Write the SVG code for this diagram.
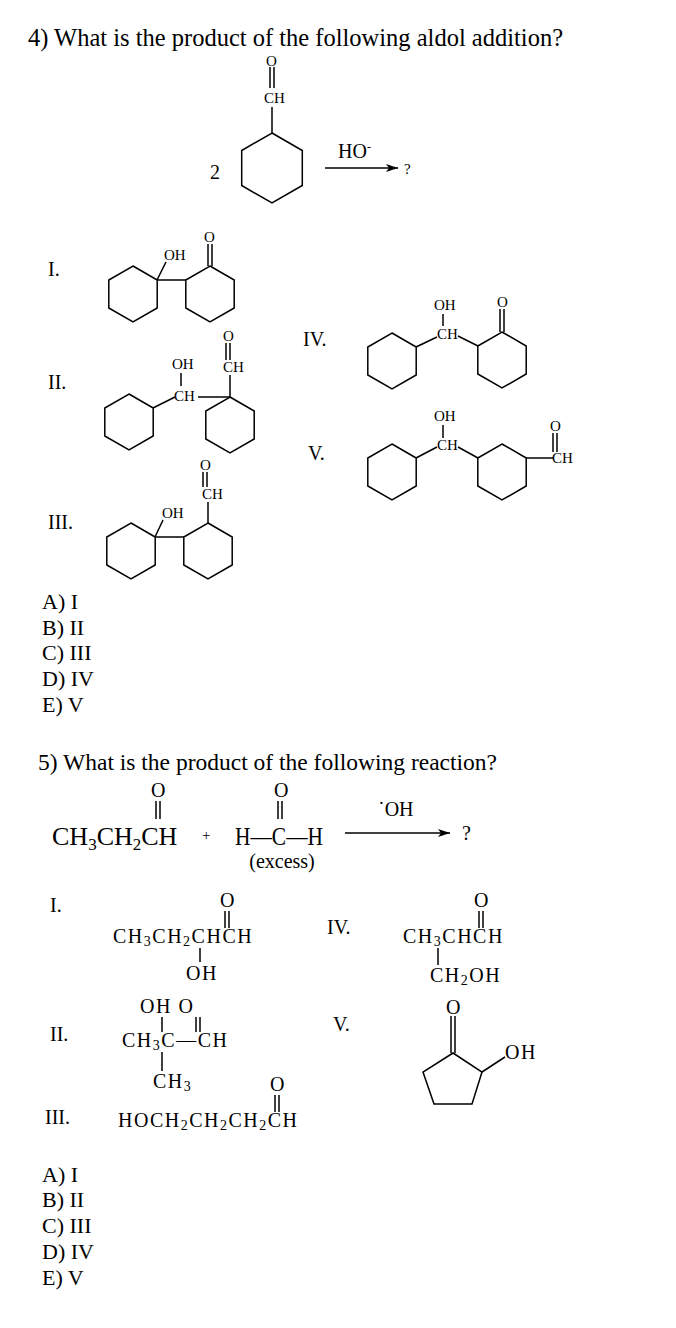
<svg xmlns="http://www.w3.org/2000/svg" width="676" height="1328" viewBox="0 0 676 1328">
<style>
text{font-family:"Liberation Serif",serif;fill:#000}
.q{font-size:24.5px}
.q5{font-size:23.5px}
.a{font-size:22px}
.s{font-size:15px}
.m{font-size:20px}
.f{font-size:20px;letter-spacing:1.5px}
.b{font-size:26px}
.l{font-size:20px}
line,polygon,polyline{stroke:#000;stroke-width:1.5;fill:none}
</style>
<defs>
<polygon id="hex" points="0,-28 24.2,-14 24.2,14 0,28 -24.2,14 -24.2,-14"/>
<polygon id="hexL" points="0,-35 30.3,-17.5 30.3,17.5 0,35 -30.3,17.5 -30.3,-17.5"/>
<marker id="ah" markerWidth="12" markerHeight="8" refX="12" refY="4" orient="auto" markerUnits="userSpaceOnUse"><path d="M0,0 L12,4 L0,8 L3,4 Z" fill="#000"/></marker>
</defs>
<text class="q" x="28" y="46">4) What is the product of the following aldol addition?</text>
<g id="q4-start">
<use href="#hexL" x="272" y="168"/>
<line x1="272" y1="133" x2="272" y2="107"/>
<text class="s" x="264" y="103">CH</text>
<line x1="270" y1="67" x2="270" y2="88"/><line x1="274" y1="67" x2="274" y2="88"/>
<text class="s" x="266" y="66">O</text>
<text class="m" x="210" y="179">2</text>
</g>
<g id="q4-arrow">
<line x1="325" y1="168" x2="398" y2="168" marker-end="url(#ah)"/>
<text class="m" x="338" y="158">HO<tspan dy="-7" font-size="12">-</tspan></text>
<text class="s" x="404" y="174">?</text>
</g>
<g id="q4-I">
<text class="l" x="48" y="276">I.</text>
<use href="#hex" x="133" y="294"/><use href="#hex" x="210" y="294"/>
<line x1="157" y1="280" x2="186" y2="280"/>
<line x1="157" y1="280" x2="166" y2="262"/>
<text class="s" x="164" y="260">OH</text>
<line x1="208" y1="244" x2="208" y2="266"/><line x1="212" y1="244" x2="212" y2="266"/>
<text class="s" x="204" y="242">O</text>
</g>
<g id="q4-II">
<text class="l" x="48" y="389">II.</text>
<use href="#hex" x="129" y="422"/><use href="#hex" x="230" y="425"/>
<line x1="153" y1="408" x2="175" y2="397"/>
<text class="s" x="174" y="401">CH</text>
<line x1="181" y1="386" x2="181" y2="373"/>
<text class="s" x="172" y="369">OH</text>
<line x1="198" y1="397" x2="230" y2="397"/>
<line x1="230" y1="397" x2="230" y2="375"/>
<text class="s" x="223" y="372">CH</text>
<line x1="226" y1="343" x2="226" y2="360"/><line x1="230" y1="343" x2="230" y2="360"/>
<text class="s" x="223" y="341">O</text>
</g>
<g id="q4-III">
<text class="l" x="48" y="529">III.</text>
<use href="#hex" x="131" y="551"/><use href="#hex" x="208" y="551"/>
<line x1="155" y1="537" x2="184" y2="537"/>
<line x1="155" y1="537" x2="163" y2="520"/>
<text class="s" x="162" y="518">OH</text>
<line x1="208" y1="523" x2="208" y2="502"/>
<text class="s" x="202" y="499">CH</text>
<line x1="203" y1="472" x2="203" y2="487"/><line x1="207" y1="472" x2="207" y2="487"/>
<text class="s" x="200" y="470">O</text>
</g>
<g id="q4-IV">
<text class="l" x="303" y="346">IV.</text>
<use href="#hex" x="392" y="361"/><use href="#hex" x="502" y="360"/>
<line x1="416" y1="347" x2="437" y2="337"/>
<text class="s" x="437" y="339">CH</text>
<line x1="443" y1="326" x2="443" y2="314"/>
<text class="s" x="434" y="310">OH</text>
<line x1="458" y1="336" x2="478" y2="346"/>
<line x1="500" y1="309" x2="500" y2="332"/><line x1="504" y1="309" x2="504" y2="332"/>
<text class="s" x="497" y="307">O</text>
</g>
<g id="q4-V">
<text class="l" x="308" y="460">V.</text>
<use href="#hex" x="392" y="472"/><use href="#hex" x="502" y="472"/>
<line x1="416" y1="458" x2="437" y2="447"/>
<text class="s" x="437" y="450">CH</text>
<line x1="443" y1="438" x2="443" y2="425"/>
<text class="s" x="434" y="421">OH</text>
<line x1="458" y1="447" x2="478" y2="458"/>
<line x1="526" y1="458" x2="553" y2="458"/>
<text class="s" x="552" y="463">CH</text>
<line x1="553" y1="433" x2="553" y2="452"/><line x1="557" y1="433" x2="557" y2="452"/>
<text class="s" x="550" y="431">O</text>
</g>
<g id="q4-answers">
<text class="a" x="42" y="609">A) I</text>
<text class="a" x="42" y="635">B) II</text>
<text class="a" x="42" y="660">C) III</text>
<text class="a" x="42" y="686">D) IV</text>
<text class="a" x="42" y="712">E) V</text>
</g>
<text class="q5" x="38" y="770">5) What is the product of the following reaction?</text>
<g id="q5-reactants">
<text class="b" x="52" y="845">CH<tspan font-size="17" dy="5">3</tspan><tspan dy="-5">CH</tspan><tspan font-size="17" dy="5">2</tspan><tspan dy="-5">CH</tspan></text>
<text class="m" x="151" y="797">O</text>
<line x1="156" y1="801" x2="156" y2="819"/><line x1="160" y1="801" x2="160" y2="819"/>
<text class="s" x="202" y="840">+</text>
<text class="b" x="235" y="845" textLength="88" lengthAdjust="spacingAndGlyphs">H—C—H</text>
<text class="m" x="274" y="797">O</text>
<line x1="278" y1="801" x2="278" y2="819"/><line x1="282" y1="801" x2="282" y2="819"/>
<text class="l" x="282" y="868" text-anchor="middle">(excess)</text>
</g>
<g id="q5-arrow">
<line x1="345" y1="833" x2="450" y2="833" marker-end="url(#ah)"/>
<text class="l" x="378" y="816" font-size="23">˙OH</text>
<text class="m" x="462" y="840">?</text>
</g>
<g id="q5-I">
<text class="m" x="50" y="912">I.</text>
<text class="f" x="113" y="943">CH<tspan font-size="14" dy="3">3</tspan><tspan dy="-3">CH</tspan><tspan font-size="14" dy="3">2</tspan><tspan dy="-3">CHCH</tspan></text>
<text class="m" x="220" y="907">O</text>
<line x1="225" y1="911" x2="225" y2="928"/><line x1="229" y1="911" x2="229" y2="928"/>
<line x1="200" y1="948" x2="200" y2="962"/>
<text class="f" x="186" y="980">OH</text>
</g>
<g id="q5-II">
<text class="m" x="50" y="1041">II.</text>
<text class="f" x="140" y="1013">OH O</text>
<line x1="162" y1="1017" x2="162" y2="1032"/>
<line x1="196" y1="1017" x2="196" y2="1032"/><line x1="200" y1="1017" x2="200" y2="1032"/>
<text class="f" x="122" y="1047">CH<tspan font-size="14" dy="3">3</tspan><tspan dy="-3">C—CH</tspan></text>
<line x1="162" y1="1052" x2="162" y2="1071"/>
<text class="f" x="153" y="1088">CH<tspan font-size="14" dy="3">3</tspan></text>
</g>
<g id="q5-III">
<text class="m" x="45" y="1124">III.</text>
<text class="f" x="118" y="1127">HOCH<tspan font-size="14" dy="3">2</tspan><tspan dy="-3">CH</tspan><tspan font-size="14" dy="3">2</tspan><tspan dy="-3">CH</tspan><tspan font-size="14" dy="3">2</tspan><tspan dy="-3">CH</tspan></text>
<text class="m" x="270" y="1091">O</text>
<line x1="275" y1="1095" x2="275" y2="1112"/><line x1="279" y1="1095" x2="279" y2="1112"/>
</g>
<g id="q5-IV">
<text class="m" x="327" y="934">IV.</text>
<text class="f" x="403" y="943">CH<tspan font-size="14" dy="3">3</tspan><tspan dy="-3">CHCH</tspan></text>
<text class="m" x="474" y="907">O</text>
<line x1="479" y1="911" x2="479" y2="928"/><line x1="483" y1="911" x2="483" y2="928"/>
<line x1="438" y1="948" x2="438" y2="965"/>
<text class="f" x="430" y="982">CH<tspan font-size="14" dy="3">2</tspan><tspan dy="-3">OH</tspan></text>
</g>
<g id="q5-V">
<text class="m" x="333" y="1031">V.</text>
<polygon points="453,1053 482,1072 472,1104 434,1104 423,1072"/>
<line x1="451" y1="1016" x2="451" y2="1053"/><line x1="455" y1="1016" x2="455" y2="1053"/>
<text class="m" x="446" y="1014">O</text>
<line x1="482" y1="1072" x2="505" y2="1057"/>
<text class="f" x="505" y="1059">OH</text>
</g>
<g id="q5-answers">
<text class="a" x="42" y="1182">A) I</text>
<text class="a" x="42" y="1207">B) II</text>
<text class="a" x="42" y="1233">C) III</text>
<text class="a" x="42" y="1259">D) IV</text>
<text class="a" x="42" y="1285">E) V</text>
</g>
</svg>
